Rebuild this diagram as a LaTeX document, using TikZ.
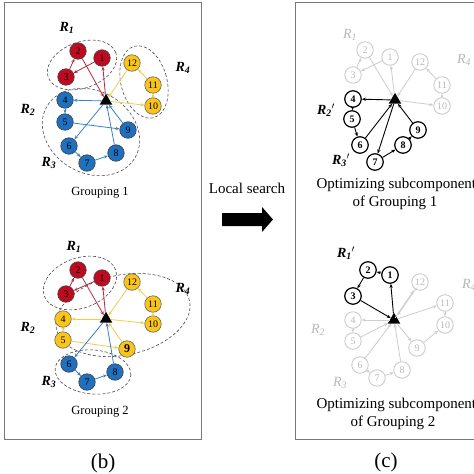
\documentclass[tikz,border=0pt]{standalone}
\usepackage{fontspec}
\setmainfont{Liberation Serif}
\usetikzlibrary{arrows.meta,shapes.geometric}
\definecolor{rfill}{RGB}{192,10,32}
\definecolor{rline}{RGB}{178,40,62}
\definecolor{yfill}{RGB}{250,196,24}
\definecolor{yline}{RGB}{240,204,80}
\definecolor{bfill}{RGB}{31,112,190}
\definecolor{bline}{RGB}{58,130,192}
\definecolor{lgray}{RGB}{205,205,205}
\definecolor{tgray}{RGB}{185,185,185}
\definecolor{boxgray}{RGB}{120,120,120}
\begin{document}
\begin{tikzpicture}[x=1pt,y=-1pt,
  cnode/.style={circle,minimum size=16.5pt,inner sep=0pt,font=\fontsize{10}{10}\selectfont,line width=0.6pt},
  rnode/.style={cnode,fill=rfill,draw=black!75},
  ynode/.style={cnode,fill=yfill,draw=black!60},
  bnode/.style={cnode,fill=bfill,draw=black!75},
  knode/.style={cnode,fill=white,draw=black,line width=1.2pt,font=\bfseries\fontsize{10}{10}\selectfont},
  gnode/.style={cnode,fill=white,draw=lgray,line width=0.9pt,text=tgray},
  trinode/.style={regular polygon,regular polygon sides=3,fill=black,minimum size=14.5pt,inner sep=0pt},
  conn/.style={line width=0.8pt,-{Stealth[length=4pt,width=3.2pt]}},
  redge/.style={conn,rline},
  yedge/.style={conn,yline},
  bedge/.style={conn,bline},
  kedge/.style={conn,black,line width=0.9pt},
  gedge/.style={conn,lgray},
  grpell/.style={densely dashed,black!70,line width=0.6pt},
  rlab/.style={font=\bfseries\itshape\fontsize{14}{14}\selectfont},
  glab/.style={font=\itshape\fontsize{14}{14}\selectfont,text=tgray},
  panelbox/.style={draw=boxgray,line width=0.9pt},
  capsmall/.style={font=\fontsize{12.5}{12.5}\selectfont},
  capbig/.style={font=\fontsize{15}{15}\selectfont},
  sublab/.style={font=\fontsize{21}{21}\selectfont}]
\useasboundingbox (0,0) rectangle (474,474);
\fill[white] (0,0) rectangle (474,474);
% panels
\draw[panelbox] (4,2) rectangle (201,439);
\draw[panelbox] (295,2) rectangle (480,439);

% ===== Grouping 1 (left) =====
\draw[grpell,rotate around={20:(82,65)}] (82,65) ellipse [x radius=36pt,y radius=23pt];
\draw[grpell,rotate around={15:(144,82)}] (144,82) ellipse [x radius=23pt,y radius=37pt];
\draw[grpell,rotate around={-30:(91,132)}] (91,132) ellipse [x radius=51pt,y radius=41pt];
\node[rnode] (a1) at (102,58) {1};
\node[rnode] (a2) at (78,51) {2};
\node[rnode] (a3) at (66,77) {3};
\node[bnode] (a4) at (65,100) {4};
\node[bnode] (a5) at (65,122) {5};
\node[bnode] (a6) at (69,146) {6};
\node[bnode] (a7) at (87,163) {7};
\node[bnode] (a8) at (116,153) {8};
\node[bnode] (a9) at (128,130) {9};
\node[ynode] (a10) at (153,106) {10};
\node[ynode] (a11) at (153,85) {11};
\node[ynode] (a12) at (132,63) {12};
\node[trinode] (at) at (106,101) {};
\draw[redge] (at) -- (a1);
\draw[redge] (a1) -- (a3);
\draw[redge] (a3) -- (a2);
\draw[redge] (a2) -- (at);
\draw[yedge] (at) -- (a10);
\draw[yedge] (a10) -- (a11);
\draw[yedge] (a11) -- (a12);
\draw[yedge] (a12) -- (at);
\draw[bedge] (at) -- (a4);
\draw[bedge] (a4) -- (a5);
\draw[bedge] (a5) -- (a9);
\draw[bedge] (a9) -- (at);
\draw[bedge] (at) -- (a6);
\draw[bedge] (a6) -- (a7);
\draw[bedge] (a7) -- (a8);
\draw[bedge] (a8) -- (at);
\node[rlab] (aR1) at (67,28) {R\textsubscript{1}};
\node[rlab] (aR2) at (28,110) {R\textsubscript{2}};
\node[rlab] (aR3) at (49,163) {R\textsubscript{3}};
\node[rlab] (aR4) at (183,68) {R\textsubscript{4}};
\node[capsmall] (ag) at (100,193) {Grouping 1};

% ===== Grouping 2 (left) =====
\draw[grpell,rotate around={20:(80,283)}] (80,283) ellipse [x radius=38pt,y radius=25pt];
\draw[grpell,rotate around={12:(123,315)}] (123,315) ellipse [x radius=68pt,y radius=40pt];
\draw[grpell,rotate around={-5:(93,372)}] (93,372) ellipse [x radius=38pt,y radius=22pt];
\node[rnode] (b1) at (102,278) {1};
\node[rnode] (b2) at (78,270) {2};
\node[rnode] (b3) at (66,294) {3};
\node[ynode] (b4) at (63,319) {4};
\node[ynode] (b5) at (63,340) {5};
\node[bnode] (b6) at (69,364) {6};
\node[bnode] (b7) at (87,382) {7};
\node[bnode] (b8) at (115,372) {8};
\node[ynode,font=\bfseries\fontsize{12}{12}\selectfont] (b9) at (127,349) {9};
\node[ynode] (b10) at (153,324) {10};
\node[ynode] (b11) at (153,304) {11};
\node[ynode] (b12) at (132,282) {12};
\node[trinode] (bt) at (106,319) {};
\draw[redge] (bt) -- (b1);
\draw[redge] (b1) -- (b3);
\draw[redge] (b3) -- (b2);
\draw[redge] (b2) -- (bt);
\draw[yedge] (bt) -- (b10);
\draw[yedge] (b10) -- (b11);
\draw[yedge] (b11) -- (b12);
\draw[yedge] (b12) -- (bt);
\draw[yedge] (bt) -- (b4);
\draw[yedge] (b4) -- (b5);
\draw[yedge] (b5) -- (b9);
\draw[yedge] (b9) -- (bt);
\draw[bedge] (bt) -- (b6);
\draw[bedge] (b6) -- (b7);
\draw[bedge] (b7) -- (b8);
\draw[bedge] (b8) -- (bt);
\node[rlab] (bR1) at (74,247) {R\textsubscript{1}};
\node[rlab] (bR2) at (28,328) {R\textsubscript{2}};
\node[rlab] (bR3) at (49,382) {R\textsubscript{3}};
\node[rlab] (bR4) at (183,289) {R\textsubscript{4}};
\node[capsmall] (bg) at (100,412) {Grouping 2};

% ===== middle =====
\node[capbig] (ls) at (247,188) {Local search};
\fill (222,213) -- (262,213) -- (262,207) -- (273,219.5) -- (262,232) -- (262,226) -- (222,226) -- cycle;

% ===== Optimizing Grouping 1 (right) =====
\node[gnode] (c1) at (390,57) {1};
\node[gnode] (c2) at (365,50) {2};
\node[gnode] (c3) at (353,75) {3};
\node[knode] (c4) at (353,99) {4};
\node[knode] (c5) at (352,119) {5};
\node[knode] (c6) at (360,145) {6};
\node[knode] (c7) at (375,162) {7};
\node[knode] (c8) at (403,145) {8};
\node[knode] (c9) at (418,130) {9};
\node[gnode] (c10) at (442,106) {10};
\node[gnode] (c11) at (442,85) {11};
\node[gnode] (c12) at (420,62) {12};
\node[trinode] (ct) at (395,100) {};
\draw[gedge] (ct) -- (c1);
\draw[gedge] (c1) -- (c3);
\draw[gedge] (c3) -- (c2);
\draw[gedge] (c2) -- (ct);
\draw[gedge] (ct) -- (c10);
\draw[gedge] (c10) -- (c11);
\draw[gedge] (c11) -- (c12);
\draw[gedge] (c12) -- (ct);
\draw[kedge] (ct) -- (c4);
\draw[kedge] (c4) -- (c5);
\draw[kedge] (c5) -- (c6);
\draw[kedge] (c6) -- (ct);
\draw[kedge] (ct) -- (c7);
\draw[kedge] (c7) -- (c8);
\draw[kedge] (c8) -- (c9);
\draw[kedge] (c9) -- (ct);
\node[glab] (cR1) at (350,35) {R\textsubscript{1}};
\node[glab] (cR4) at (464,60) {R\textsubscript{4}};
\node[rlab] (cR2) at (326,110) {R\textsubscript{2}$^{\prime}$};
\node[rlab] (cR3) at (341,160) {R\textsubscript{3}$^{\prime}$};
\node[capbig,anchor=west] (co1) at (313,185) {Optimizing subcomponents};
\node[capbig] (co2) at (395,203) {of Grouping 1};

% ===== Optimizing Grouping 2 (right) =====
\node[knode] (d1) at (390,275) {1};
\node[knode] (d2) at (368,270) {2};
\node[knode] (d3) at (353,296) {3};
\node[gnode] (d4) at (353,320) {4};
\node[gnode] (d5) at (353,341) {5};
\node[gnode] (d6) at (360,365) {6};
\node[gnode] (d7) at (377,378) {7};
\node[gnode] (d8) at (402,370) {8};
\node[gnode] (d9) at (417,348) {9};
\node[gnode] (d10) at (445,325) {10};
\node[gnode] (d11) at (445,303) {11};
\node[gnode] (d12) at (420,282) {12};
\node[trinode] (dt) at (394,320) {};
\draw[kedge] (dt) -- (d1);
\draw[kedge] (d1) -- (d2);
\draw[kedge] (d2) -- (d3);
\draw[kedge] (d3) -- (dt);
\draw[gedge,transform canvas={xshift=-1.3pt,yshift=-1.3pt}] (dt) -- (d12);
\draw[gedge,transform canvas={xshift=1.3pt,yshift=1.3pt}] (d12) -- (dt);
\draw[gedge] (dt) -- (d11);
\draw[gedge] (d11) -- (d10);
\draw[gedge] (dt) -- (d9);
\draw[gedge] (d9) -- (d10);
\draw[gedge] (dt) -- (d4);
\draw[gedge] (d4) -- (d5);
\draw[gedge] (d5) -- (dt);
\draw[gedge] (d6) -- (dt);
\draw[gedge] (d6) -- (d7);
\draw[gedge] (d7) -- (d8);
\draw[gedge] (d8) -- (dt);
\node[rlab] (dR1) at (346,253) {R\textsubscript{1}$^{\prime}$};
\node[glab] (dR2) at (318,330) {R\textsubscript{2}};
\node[glab] (dR3) at (340,383) {R\textsubscript{3}};
\node[glab] (dR4) at (469,285) {R\textsubscript{4}};
\node[capbig,anchor=west] (do1) at (313,405) {Optimizing subcomponents};
\node[capbig] (do2) at (393,423) {of Grouping 2};

% sub-figure labels
\node[sublab] (lb) at (103,463) {(b)};
\node[sublab] (lc) at (386,462) {(c)};
\end{tikzpicture}
\end{document}
